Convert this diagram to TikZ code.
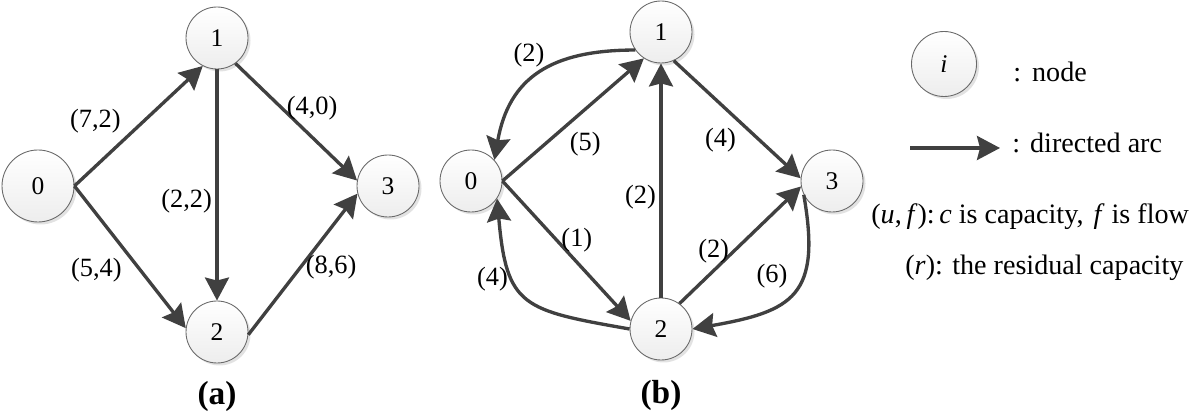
\documentclass[tikz,border=0pt]{standalone}
\usepackage{fontspec}
\setmainfont{Liberation Serif}
\usepackage{xcolor}
\usepackage{tikz}
\usetikzlibrary{arrows.meta, positioning, shadows}

\definecolor{arcgray}{RGB}{64,64,64}
\definecolor{rimgray}{RGB}{105,105,105}

\tikzset{
    vertex/.style={circle, draw=rimgray, line width=0.5pt, minimum size=1.24cm, inner sep=0pt,
        top color=white, bottom color=gray!14,
        drop shadow={shadow xshift=0.05cm, shadow yshift=-0.05cm, fill=gray!45, opacity=0.5},
        font=\fontsize{14.5}{17}\selectfont},
    arcline/.style={draw=arcgray, line width=1.9pt,
        -{Stealth[length=0.46cm, width=0.48cm, inset=0.06cm]}},
    lbl/.style={inner sep=2pt, font=\fontsize{15}{17}\selectfont},
    legtext/.style={anchor=base west, inner sep=0pt, font=\fontsize{16}{19}\selectfont},
    paneltitle/.style={inner sep=0pt, font=\fontsize{19}{22}\selectfont\bfseries}
}

\begin{document}
\begin{tikzpicture}
            \useasboundingbox (0,0) rectangle (24,8.32);

            % (a) flow network
            \node[vertex, minimum size=1.44cm] (a0) at (0.76,4.60) {0};
            \node[vertex, right of=a0, xshift=2.58cm, yshift=2.96cm] (a1) {1};
            \node[vertex, below of=a1, yshift=-4.88cm] (a2) {2};
            \node[vertex, right of=a0, xshift=6cm] (a3) {3};

            \draw[arcline] (a0.east) -- node[lbl, pos=0.4, above left] (l01) {(7,2)} (a1.243);
            \draw[arcline] (a0.east) -- node[lbl, pos=0.47, below left] (l02) {(5,4)} (a2.173);
            \draw[arcline] (a1.south) -- node[lbl, pos=0.57, left] (l12) {(2,2)} (a2.north);
            \draw[arcline] (a1.-54) -- node[lbl, pos=0.38, right] (l13) {(4,0)} (a3.170);
            \draw[arcline] (a2.-5) -- node[lbl, pos=0.48, right] (l23) {(8,6)} (a3.194);

            \node[paneltitle, below of=a2, yshift=-0.28cm] (capa) {(a)};

            % (b) residual network
            \node[vertex, right of=a3, xshift=0.66cm, yshift=0.1cm] (b0) {0};
            \node[vertex, right of=b0, xshift=2.8cm, yshift=2.98cm] (b1) {1};
            \node[vertex, below of=b1, yshift=-4.94cm] (b2) {2};
            \node[vertex, right of=b0, xshift=6.22cm] (b3) {3};

            \draw[arcline] (b0.east) -- node[lbl, pos=0.44, below right] (m01) {(5)} (b1.237);
            \draw[arcline] (b0.east) -- node[lbl, pos=0.42, right] (m02) {(1)} (b2.165);
            \draw[arcline] (b2.north) -- node[lbl, pos=0.43, left] (m21) {(2)} (b1.south);
            \draw[arcline] (b1.-66) -- node[lbl, pos=0.53, below left] (m13) {(4)} (b3.175);
            \draw[arcline] (b2.54) -- node[lbl, pos=0.45, left] (m23) {(2)} (b3.190);
            \draw[arcline] (b1.215) to[out=180, in=80, looseness=1.2]
                node[lbl, pos=0.45, above left, inner sep=0pt] (m10) {(2)} (b0.42);
            \draw[arcline] (b2.180) to[out=170, in=-85, looseness=1.5]
                node[lbl, pos=0.65, left] (m20) {(4)} (b0.-34);
            \draw[arcline] (b3.206) to[out=-80, in=10, looseness=1.5]
                node[lbl, pos=0.5, above left] (m32) {(6)} (b2.east);

            \node[paneltitle, below of=b2, yshift=-0.32cm] (capb) {(b)};

            % legend
            \node[vertex, minimum size=1.3cm, right of=b1, xshift=4.66cm, yshift=-0.64cm] (li) {\textit{i}};
            \node[legtext] (lnode) at (20.26,6.68) {:\hspace{0.22cm}node};
            \coordinate (arcL) at (18.2,5.36);
            \coordinate (arcR) at (20.0,5.36);
            \draw[arcline] (arcL) -- (arcR);
            \node[legtext] (larc) at (20.24,5.27) {:\hspace{0.2cm}directed arc};
            \node[legtext] (lpair) at (17.42,3.85) {(\textit{u},\,\textit{f}):\,\textit{c} is capacity,\hspace{0.2cm}\textit{f} is flow};
            \node[legtext] (lres) at (18.1,2.82) {(\textit{r}): the residual capacity};
        \end{tikzpicture}
\end{document}
